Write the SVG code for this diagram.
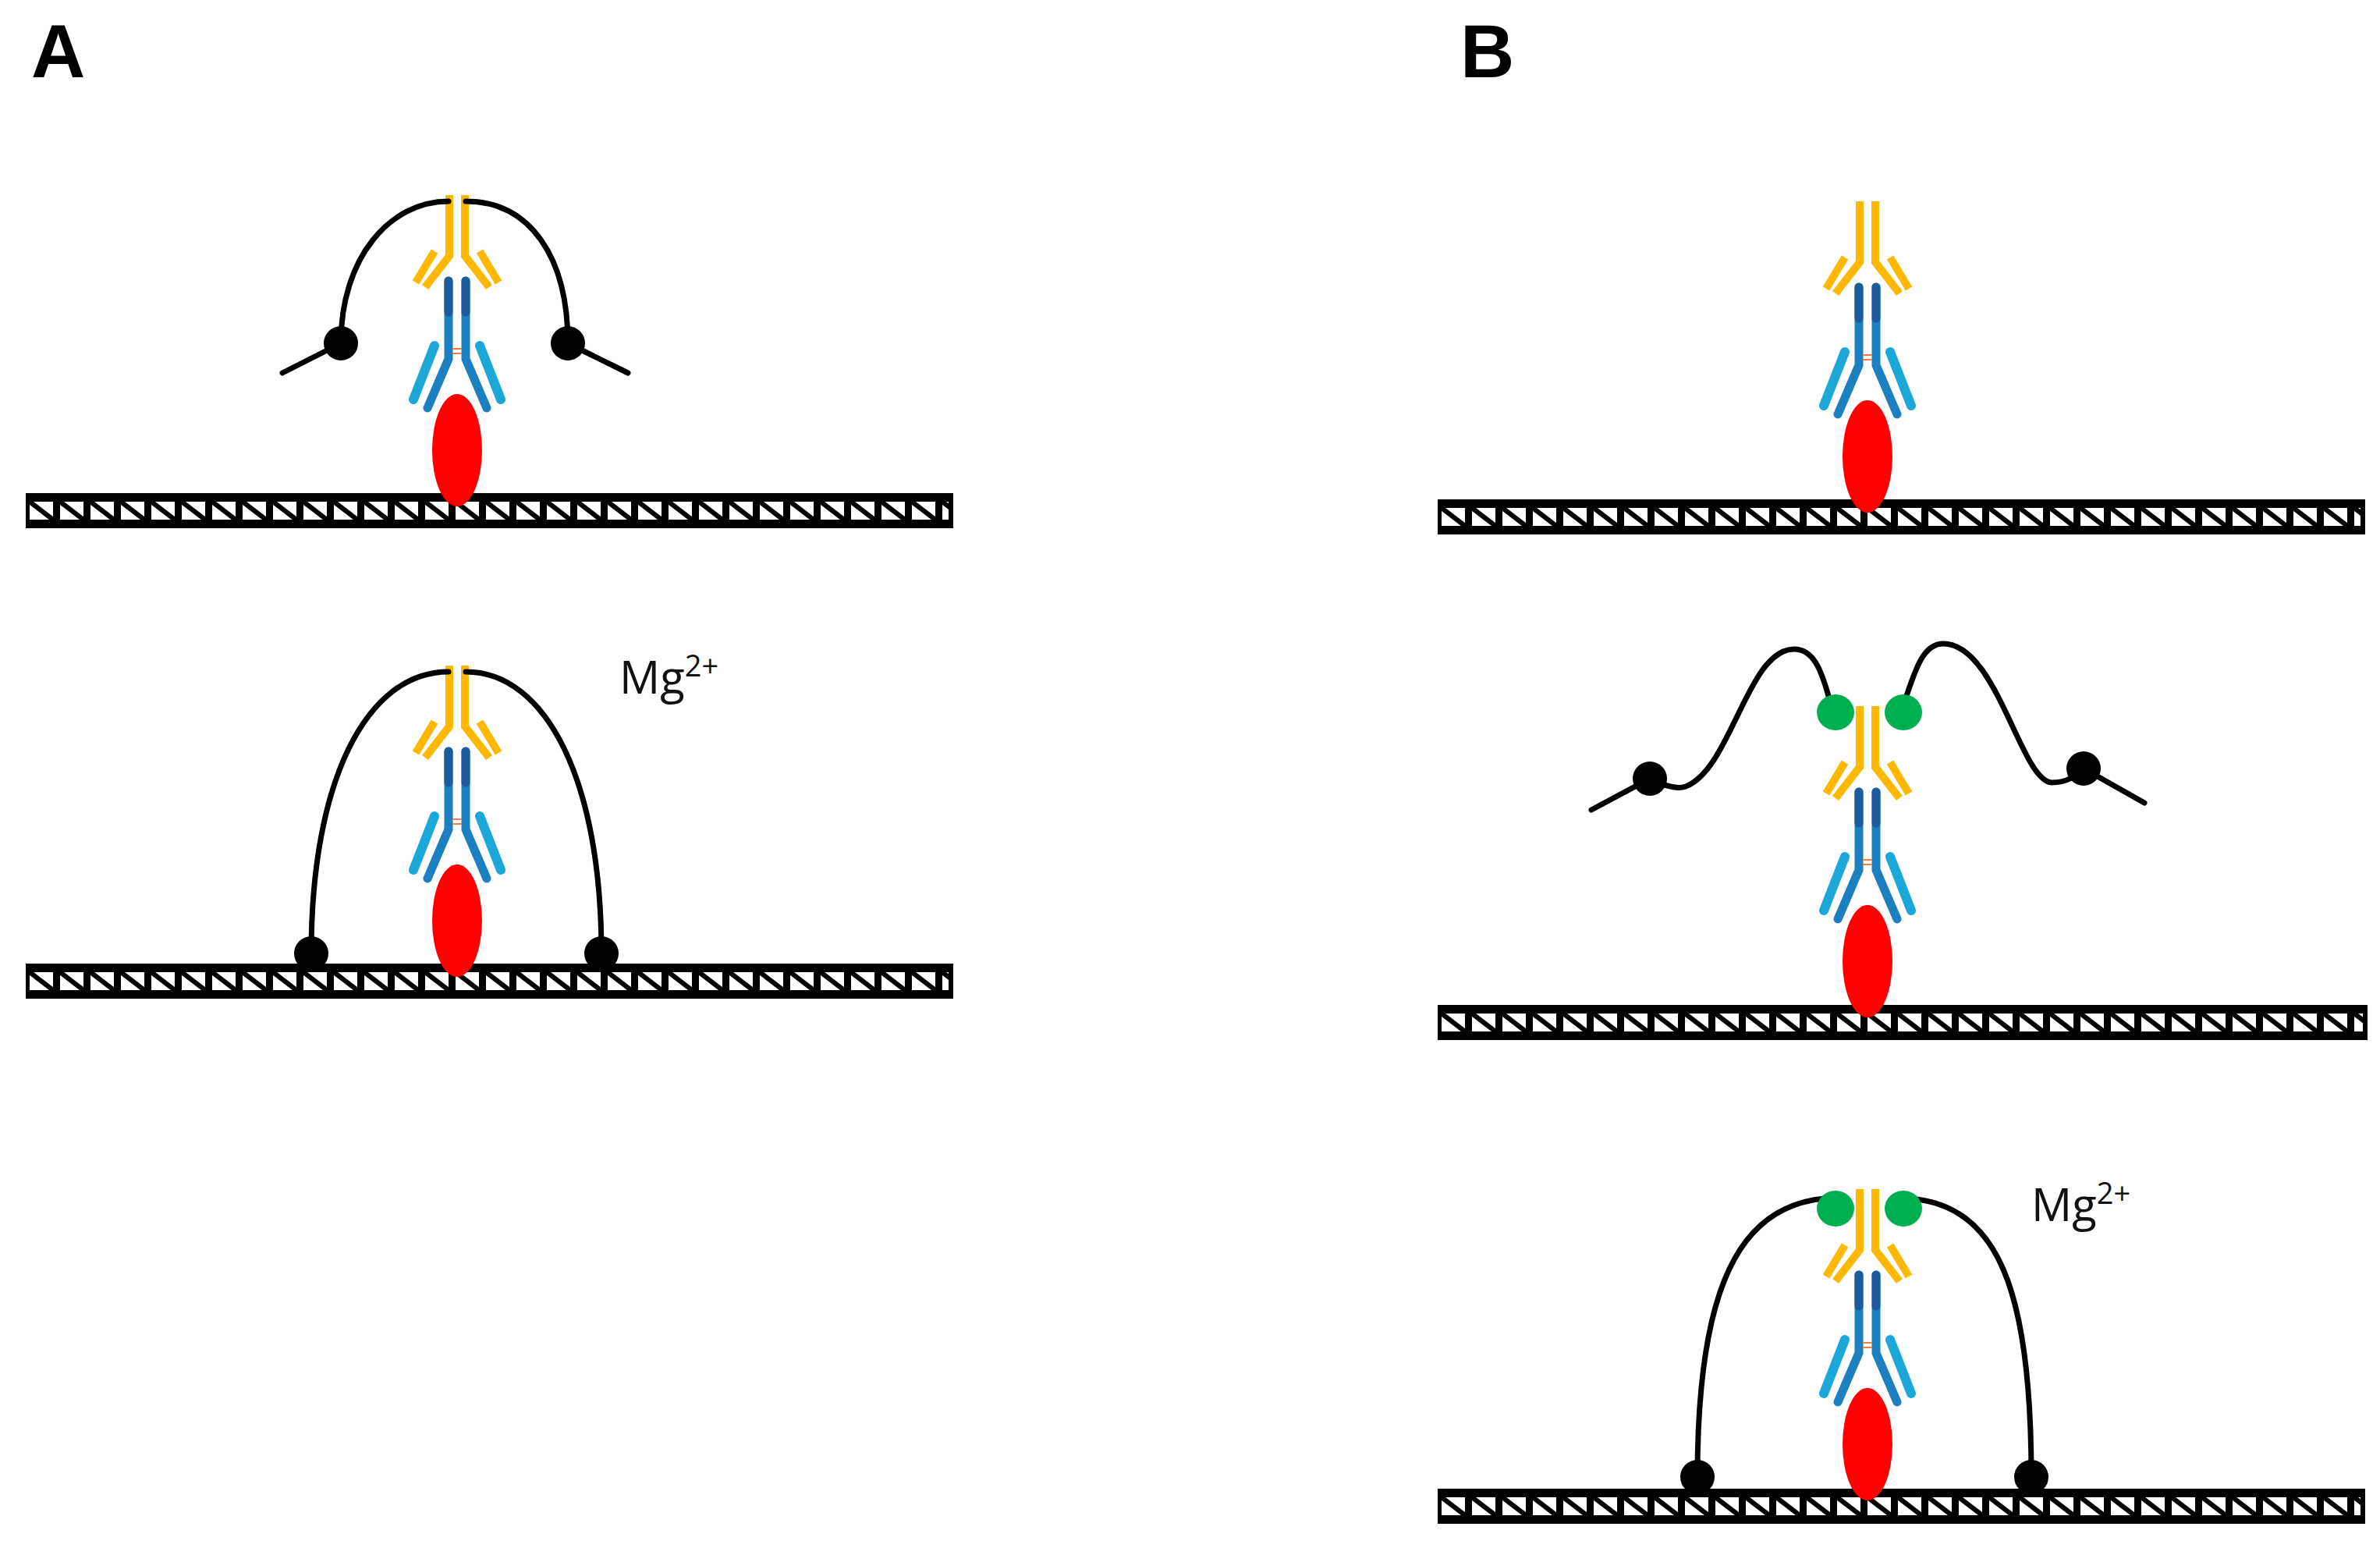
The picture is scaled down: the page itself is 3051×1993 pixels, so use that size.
<svg xmlns="http://www.w3.org/2000/svg" width="3051" height="1993" viewBox="0 0 3051 1993">
<style>
.lk{fill:none;stroke:#000;stroke-width:7;stroke-linecap:round}
.ball{fill:#000}
.gb{fill:#00B050}
.lbl{font-family:"Liberation Sans",Arial,sans-serif;font-weight:bold;font-size:96px;fill:#000}
.mg{font-family:"Open Sans","Liberation Sans",sans-serif;font-size:58px;fill:#111}
.mgs{font-family:"Open Sans","Liberation Sans",sans-serif;font-size:38px;fill:#111}
</style>
<defs>
<pattern id="hatch" width="39" height="45" patternUnits="userSpaceOnUse">
<rect x="0" y="0" width="39" height="45" fill="#000"/>
<rect x="5" y="11" width="30" height="23" fill="#fff"/>
<line x1="5" y1="11" x2="35" y2="34" stroke="#000" stroke-width="6"/>
</pattern>
<g id="ab">
<g fill="none" stroke="#FFB800" stroke-width="10">
<polyline points="-10,0 -10,78 -41,118"/><polyline points="10,0 10,78 41,118"/>
<line x1="-29" y1="72" x2="-53" y2="112"/><line x1="29" y1="72" x2="53" y2="112"/>
</g>
<g fill="none" stroke-linecap="round" stroke-width="11">
<polyline points="-11,110 -11,210 -38,273" stroke="#1B7FC0"/><polyline points="11,110 11,210 38,273" stroke="#1B7FC0"/>
<line x1="-11" y1="110" x2="-11" y2="150" stroke="#1A5C9C"/><line x1="11" y1="110" x2="11" y2="150" stroke="#1A5C9C"/>
<line x1="-29" y1="193" x2="-56" y2="262" stroke="#1BA8D8" stroke-width="12"/><line x1="29" y1="193" x2="56" y2="262" stroke="#1BA8D8" stroke-width="12"/>
</g>
<line x1="-6" y1="197" x2="6" y2="197" stroke="#F08040" stroke-width="2"/>
<line x1="-6" y1="203" x2="6" y2="203" stroke="#F08040" stroke-width="2"/>
<ellipse cx="0" cy="327" rx="32" ry="72" fill="#FF0000"/>
</g>
</defs>
<rect width="3051" height="1993" fill="#fff"/>
<text class="lbl" x="40" y="99">A</text>
<text class="lbl" x="1872" y="99">B</text>

<g id="surfaces">
<g transform="translate(33,632)"><rect width="1189" height="45" fill="url(#hatch)"/><rect x="1183" width="6" height="45" fill="#000"/></g>
<g transform="translate(33,1235)"><rect width="1189" height="45" fill="url(#hatch)"/><rect x="1183" width="6" height="45" fill="#000"/></g>
<g transform="translate(1843,640)"><rect width="1189" height="45" fill="url(#hatch)"/><rect x="1183" width="6" height="45" fill="#000"/></g>
<g transform="translate(1843,1288)"><rect width="1192" height="45" fill="url(#hatch)"/><rect x="1186" width="6" height="45" fill="#000"/></g>
<g transform="translate(1843,1908)"><rect width="1189" height="45" fill="url(#hatch)"/><rect x="1183" width="6" height="45" fill="#000"/></g>
</g>

<g id="antibody-A1"><use href="#ab" x="586" y="250"/></g>
<g id="antibody-A2"><use href="#ab" x="586" y="853"/></g>
<g id="antibody-B1"><use href="#ab" x="2394" y="258"/></g>
<g id="antibody-B2"><use href="#ab" x="2394" y="905"/></g>
<g id="antibody-B3"><use href="#ab" x="2394" y="1524"/></g>

<g id="connectors">
<path class="lk" d="M437,440 C437,330 500,258 575,258 M597,258 C680,258 728,330 728,440"/>
<path class="lk" d="M362,478 L437,440 M728,440 L805,478"/>
<path class="lk" d="M399,1222 C399,1000 470,861 575,861 M597,861 C700,861 771,1000 771,1222"/>
<path class="lk" d="M2040,1038 L2115,998 C2135,1008 2150,1012 2161,1008 C2220,985 2240,832 2300,832 C2325,832 2335,860 2344,892"/>
<path class="lk" d="M2444,892 C2455,860 2465,825 2491,825 C2560,825 2590,1000 2630,1003 C2650,1003 2660,995 2671,985 L2749,1029"/>
<path class="lk" d="M2340,1536 C2230,1545 2176,1650 2176,1893 M2448,1536 C2560,1545 2604,1650 2604,1893"/>
</g>

<g id="ends-A1"><circle class="ball" cx="437" cy="440" r="22"/><circle class="ball" cx="728" cy="440" r="22"/></g>
<g id="ends-A2"><circle class="ball" cx="399" cy="1222" r="22"/><circle class="ball" cx="771" cy="1222" r="22"/></g>
<g id="ends-B2"><circle class="ball" cx="2115" cy="998" r="22"/><circle class="ball" cx="2671" cy="985" r="22"/>
<ellipse class="gb" cx="2353" cy="913" rx="24" ry="23"/><ellipse class="gb" cx="2440" cy="913" rx="24" ry="23"/></g>
<g id="ends-B3"><circle class="ball" cx="2176" cy="1893" r="22"/><circle class="ball" cx="2604" cy="1893" r="22"/>
<ellipse class="gb" cx="2353" cy="1549" rx="24" ry="23"/><ellipse class="gb" cx="2440" cy="1549" rx="24" ry="23"/></g>

<text class="mg" x="794" y="889">Mg<tspan class="mgs" dy="-22">2+</tspan></text>
<text class="mg" x="2604" y="1565">Mg<tspan class="mgs" dy="-22">2+</tspan></text>
</svg>
